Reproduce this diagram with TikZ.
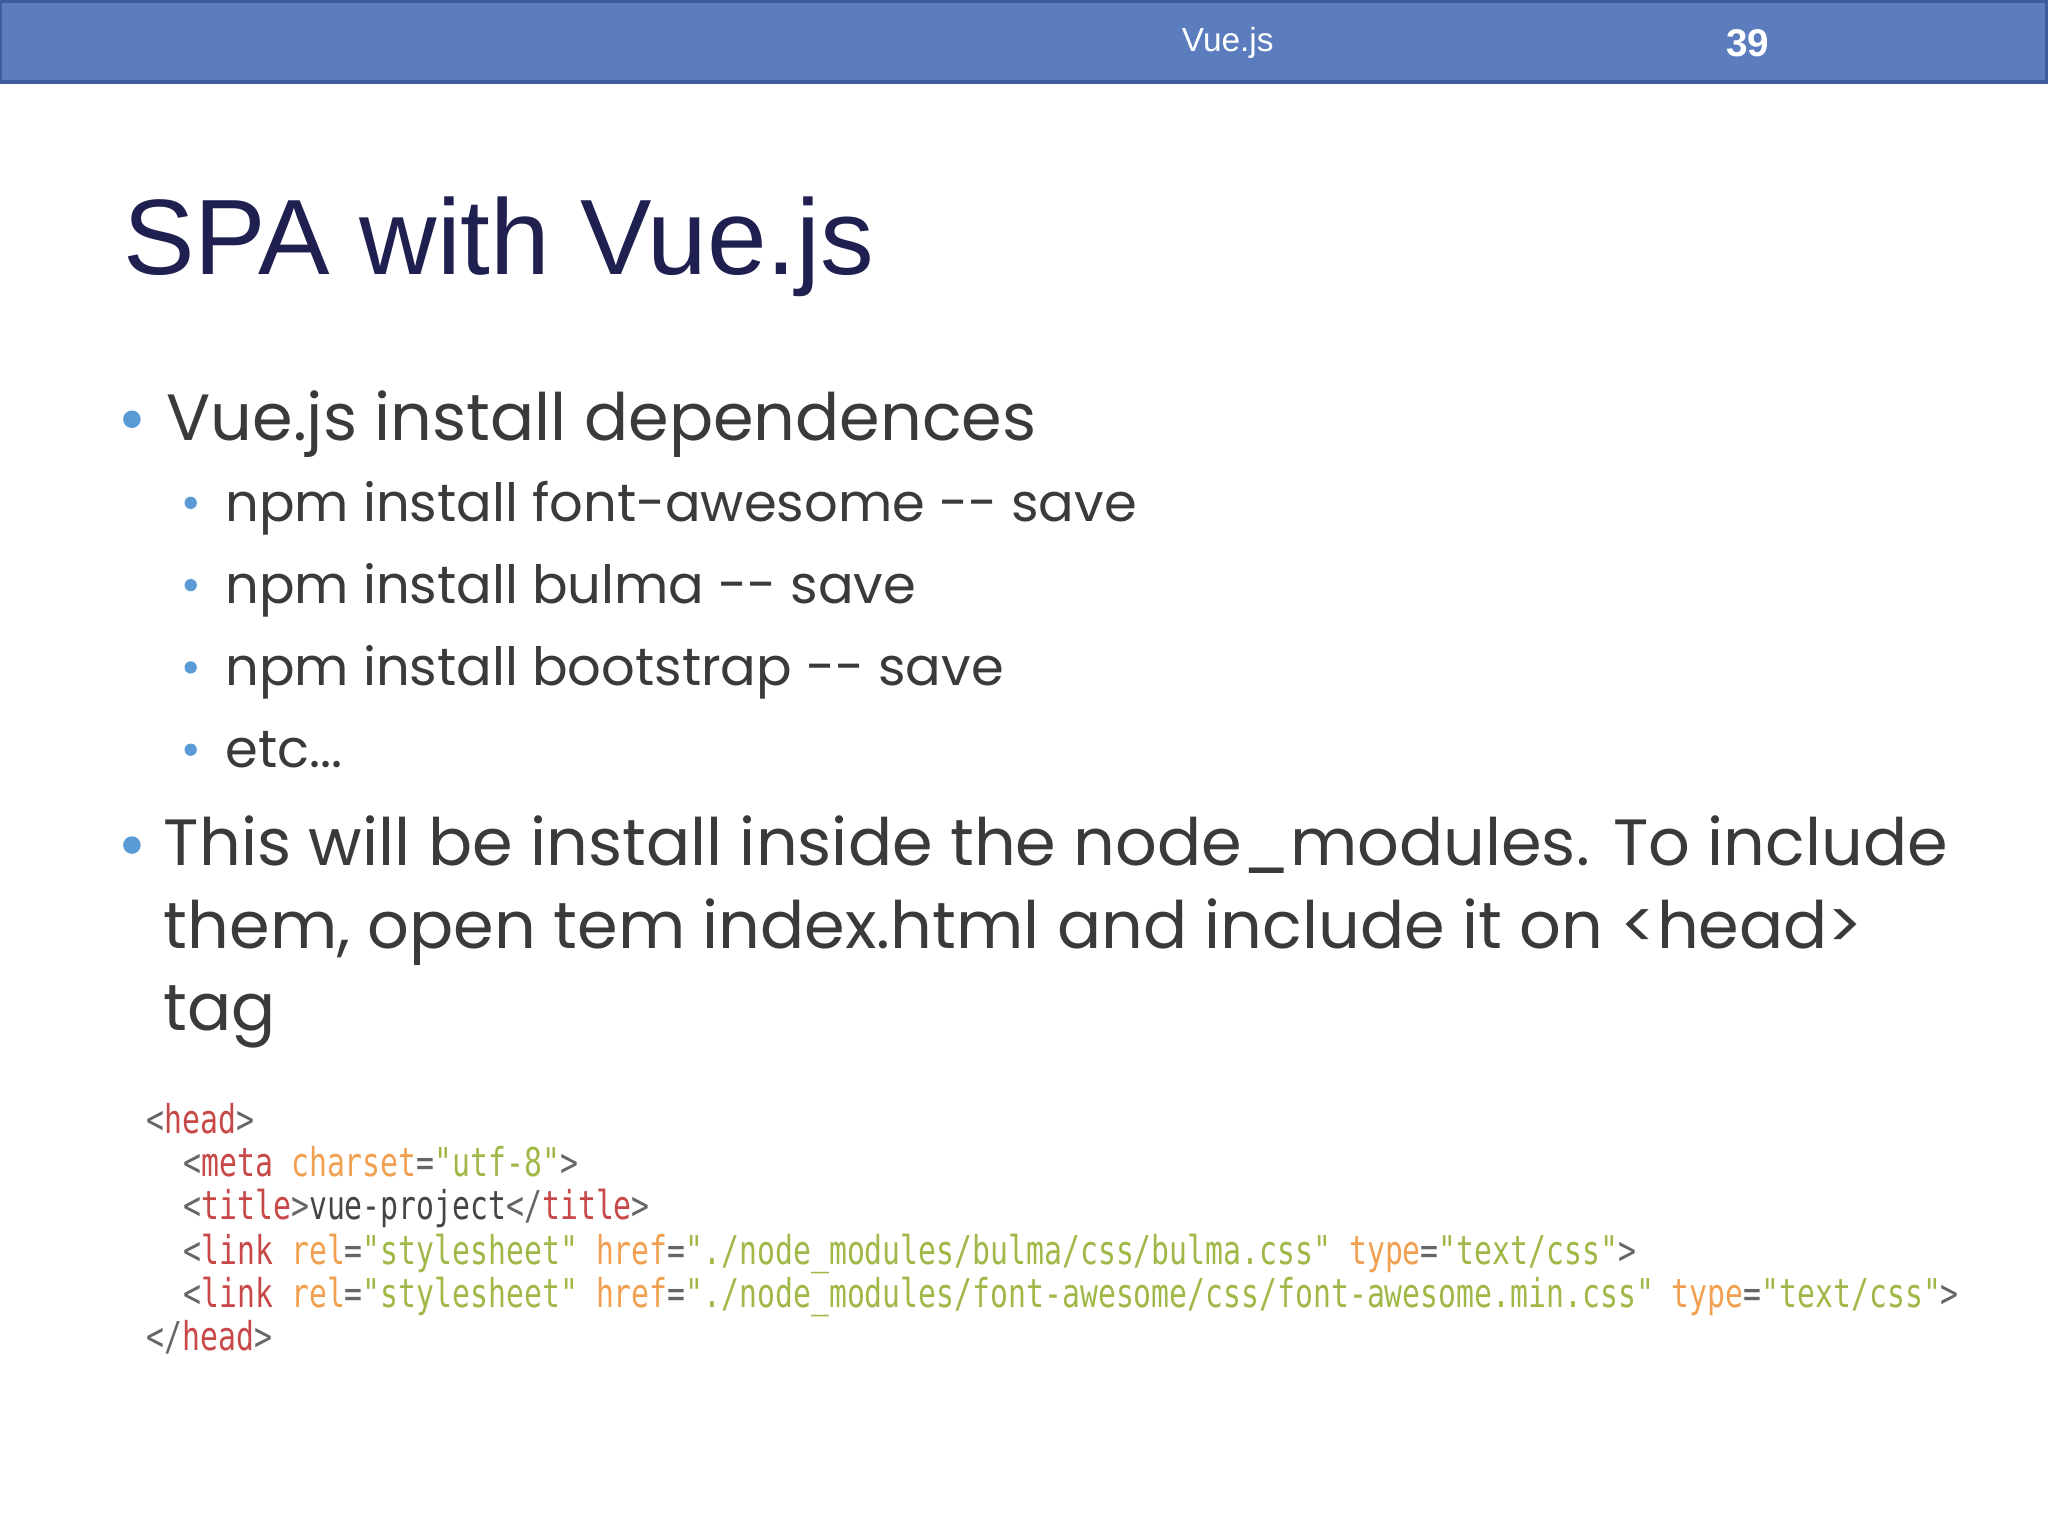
\documentclass[tikz,border=0pt]{standalone}
\usepackage{fontspec}
\setmainfont{Poppins}
\newfontfamily\titlefont{Liberation Sans}
\newfontfamily\codefont[FakeStretch=0.75]{DejaVu Sans Mono}
\definecolor{hdr}{HTML}{5B7DBD}
\definecolor{hdrb}{HTML}{3F5C9A}
\definecolor{navy}{HTML}{1F2050}
\definecolor{body}{HTML}{3A3A3A}
\definecolor{bul}{HTML}{5B9BD5}
\definecolor{cbr}{HTML}{666666}
\definecolor{ctag}{HTML}{C84848}
\definecolor{catt}{HTML}{F0A050}
\definecolor{cval}{HTML}{A0B848}
\definecolor{ctxt}{HTML}{444444}
\newcommand{\Tg}[1]{\textcolor{ctag}{#1}}
\newcommand{\At}[1]{\textcolor{catt}{#1}}
\newcommand{\Vl}[1]{\textcolor{cval}{#1}}
\begin{document}
\begin{tikzpicture}[x=0.01306cm,y=-0.01306cm,
  lone/.style={anchor=base west,inner sep=0,font=\fontsize{18.6}{22}\selectfont,text=body},
  ltwo/.style={anchor=base west,inner sep=0,font=\fontsize{15}{18}\selectfont,text=body},
  code/.style={anchor=base west,inner sep=0,font=\codefont\fontsize{11.3}{14}\selectfont,text=cbr},
  dotb/.style={circle,fill=bul,inner sep=0,minimum size=#1}]
\useasboundingbox (0,0) rectangle (1568,1176);
\fill[white] (0,0) rectangle (1568,1176);
\draw[fill=hdr,draw=hdrb,line width=1.2pt] (0,1) rectangle (1567,63);
\node[text=white,font=\titlefont\fontsize{9.5}{11}\selectfont] (hv) at (940,33) {Vue.js};
\node[text=white,font=\titlefont\bfseries\fontsize{11}{13}\selectfont] (hn) at (1338,33) {39};
\node[anchor=base west,inner sep=0,text=navy,font=\titlefont\fontsize{30.5}{36}\selectfont] (title) at (94,210) {SPA with Vue.js};
\node[dotb=5pt] (b1) at (101,321) {};
\node[lone] (t1) at (127,337) {Vue.js install dependences};
\node[dotb=3.5pt] (b2) at (146,385) {};
\node[ltwo] (t2) at (172,399) {npm install font-awesome -{}- save};
\node[dotb=3.5pt] (b3) at (146,448) {};
\node[ltwo] (t3) at (172,462) {npm install bulma -{}- save};
\node[dotb=3.5pt] (b4) at (146,511) {};
\node[ltwo] (t4) at (172,525) {npm install bootstrap -{}- save};
\node[dotb=3.5pt] (b5) at (146,574) {};
\node[ltwo] (t5) at (172,588) {etc...};
\node[dotb=5pt] (b6) at (101,647) {};
\node[lone] (t6) at (125,663) {This will be install inside the node\_modules. To include};
\node[lone] (t7) at (125,726) {them, open tem index.html and include it on <head>};
\node[lone] (t8) at (125,789) {tag};
\node[code] (c1) at (112,868) {<\Tg{head}>};
\node[code] (c2) at (140,901) {<\Tg{meta} \At{charset}=\Vl{"utf-8"}>};
\node[code] (c3) at (140,934) {<\Tg{title}>\textcolor{ctxt}{vue-project}</\Tg{title}>};
\node[code] (c4) at (140,968) {<\Tg{link} \At{rel}=\Vl{"stylesheet"} \At{href}=\Vl{"./node\_modules/bulma/css/bulma.css"} \At{type}=\Vl{"text/css"}>};
\node[code] (c5) at (140,1001) {<\Tg{link} \At{rel}=\Vl{"stylesheet"} \At{href}=\Vl{"./node\_modules/font-awesome/css/font-awesome.min.css"} \At{type}=\Vl{"text/css"}>};
\node[code] (c6) at (112,1034) {</\Tg{head}>};
\end{tikzpicture}
\end{document}
